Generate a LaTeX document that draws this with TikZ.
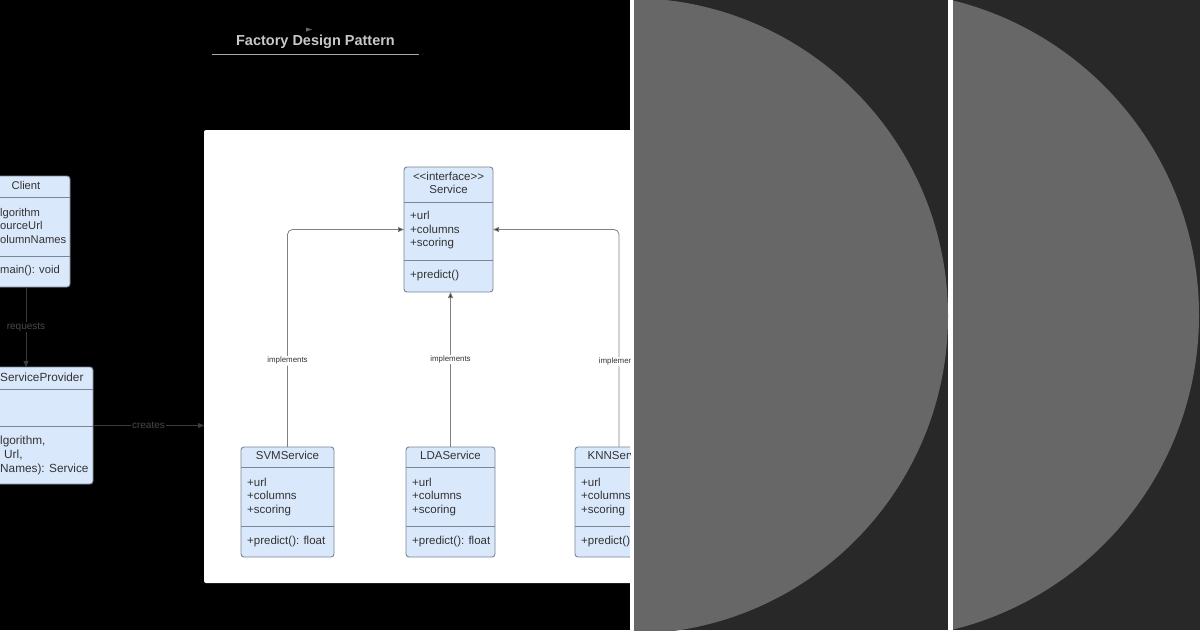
\documentclass[tikz,border=0pt]{standalone}
\usepackage{fontspec}
\setmainfont{Liberation Sans}
\usetikzlibrary{arrows.meta}
\definecolor{boxfill}{HTML}{DAE8FC}
\definecolor{boxline}{HTML}{7B8694}
\definecolor{txtcol}{HTML}{333333}
\definecolor{conncol}{HTML}{808080}
\definecolor{darkconn}{HTML}{3C3C3C}
\definecolor{darklabel}{HTML}{4A4A4A}
\definecolor{panelbg}{HTML}{282828}
\definecolor{disc}{HTML}{676767}
\definecolor{titlecol}{HTML}{C8C8C8}
\tikzset{
  umlbox/.style={draw=boxline, fill=boxfill, line width=0.9pt, rounded corners=3pt,
    inner sep=0pt, outer sep=0pt, anchor=north west},
  divider/.style={draw=boxline, line width=0.9pt},
  attr/.style={anchor=base west, inner sep=0pt, text=txtcol, font=\fontsize{11.5}{13}\selectfont},
  head/.style={anchor=base, inner sep=0pt, text=txtcol, font=\fontsize{11.5}{13}\selectfont},
  cattr/.style={attr, font=\fontsize{11.2}{13}\selectfont},
  chead/.style={head, font=\fontsize{11.2}{13}\selectfont},
  lattr/.style={attr, font=\fontsize{11.8}{14}\selectfont},
  conn/.style={draw=conncol, line width=0.8pt, -{Triangle[length=6pt,width=5pt,fill=txtcol]}},
  darkline/.style={draw=darkconn, line width=0.8pt, -{Triangle[length=6pt,width=5pt,fill=darkconn]}},
  implabel/.style={fill=white, inner sep=1pt, text=txtcol, font=\fontsize{7.9}{9}\selectfont},
  darklbl/.style={fill=black, inner sep=1pt, text=darklabel, font=\fontsize{10}{12}\selectfont},
}
\begin{document}
\begin{tikzpicture}[x=1pt,y=-1pt]
\useasboundingbox (0,0) rectangle (1200,630);
\fill[white] (0,0) rectangle (1200,630);
% right panels
\fill[panelbg] (634,0) rectangle (948,630);
\fill[panelbg] (953,0) rectangle (1200,630);
\begin{scope}
  \clip (634,0) rectangle (948,630);
  \fill[disc] (630,316) circle[radius=318];
\end{scope}
\begin{scope}
  \clip (953,0) rectangle (1200,630);
  \fill[disc] (875,315) circle[radius=324];
\end{scope}
% left panel
\begin{scope}
  \clip (0,0) rectangle (630,630);
  \fill[black] (0,0) rectangle (630,630);
  % title
  \node[anchor=base, inner sep=0pt, text=titlecol, font=\fontsize{14.5}{16}\selectfont\bfseries] (title) at (315.5,45) {Factory Design Pattern};
  \draw[draw=titlecol!85!black, line width=1pt] (212,54) -- (419,54);
  \fill[black!60] (306,27.5) -- (312,29.5) -- (306,31.5) -- cycle;
  % white canvas
  \node[fill=white, draw=none, rounded corners=2pt, inner sep=0pt, outer sep=0pt, anchor=north west,
        minimum width=440pt, minimum height=453pt] (wp) at (204,130) {};
  % Client
  \node[umlbox, minimum width=88pt, minimum height=111pt] (client) at (-18,176) {};
  \draw[divider] (-18,197) -- (70,197);
  \draw[divider] (-18,256) -- (70,256);
  \node[chead] at (26,189) {Client};
  \node[cattr] at (0,216) {lgorithm};
  \node[cattr] at (0,229) {ourceUrl};
  \node[cattr] at (0,243) {olumnNames};
  \node[cattr] at (0,273) {main(): void};
  % ServiceProvider
  \node[umlbox, minimum width=134pt, minimum height=117pt] (sp) at (-41,367) {};
  \draw[divider] (-41,389) -- (93,389);
  \draw[divider] (-41,426) -- (93,426);
  \node[lattr] at (0,381) {ServiceProvider};
  \node[lattr] at (0,444) {lgorithm,};
  \node[lattr] at (4,458) {Url,};
  \node[lattr] at (0,472) {Names): Service};
  % dark connectors
  \draw[darkline] (client.south) -- node[darklbl] {requests} (sp.north);
  \draw[darkline] (sp.east) -- node[darklbl, pos=0.5] {creates} (sp.east -| wp.west);
  % Service interface
  \node[umlbox, minimum width=89pt, minimum height=125pt] (service) at (404,167) {};
  \draw[divider] (404,202) -- (493,202);
  \draw[divider] (404,260) -- (493,260);
  \node[head] at (448.5,180) {{<}{<}interface{>}{>}};
  \node[head] at (448.5,193) {Service};
  \node[attr] at (410,219) {+url};
  \node[attr] at (410,233) {+columns};
  \node[attr] at (410,246) {+scoring};
  \node[attr] at (410,278) {+predict()};
  % SVMService
  \node[umlbox, minimum width=93pt, minimum height=110pt] (svm) at (241,447) {};
  \draw[divider] (241,467) -- (334,467);
  \draw[divider] (241,526) -- (334,526);
  \node[head] at (287.5,459) {SVMService};
  \node[attr] at (247,486) {+url};
  \node[attr] at (247,499) {+columns};
  \node[attr] at (247,513) {+scoring};
  \node[attr] at (247,544) {+predict(): float};
  % LDAService
  \node[umlbox, minimum width=89pt, minimum height=110pt] (lda) at (406,447) {};
  \draw[divider] (406,467) -- (495,467);
  \draw[divider] (406,526) -- (495,526);
  \node[head] at (450.5,459) {LDAService};
  \node[attr] at (412,486) {+url};
  \node[attr] at (412,499) {+columns};
  \node[attr] at (412,513) {+scoring};
  \node[attr] at (412,544) {+predict(): float};
  % KNNService
  \node[umlbox, minimum width=88pt, minimum height=110pt] (knn) at (575,447) {};
  \draw[divider] (575,467) -- (663,467);
  \draw[divider] (575,526) -- (663,526);
  \node[head] at (619,459) {KNNService};
  \node[attr] at (581,486) {+url};
  \node[attr] at (581,499) {+columns};
  \node[attr] at (581,513) {+scoring};
  \node[attr] at (581,544) {+predict(): float};
  % implements connectors
  \draw[conn, rounded corners=5pt] (svm.north) |- node[implabel, pos=0.198] {implements} (service.west);
  \draw[conn] (lda.north) -- node[implabel, pos=0.565] {implements} (lda.north |- service.south);
  \draw[conn, rounded corners=5pt] (knn.north) |- node[implabel, pos=0.196] {implements} (service.east);
\end{scope}
\end{tikzpicture}
\end{document}
